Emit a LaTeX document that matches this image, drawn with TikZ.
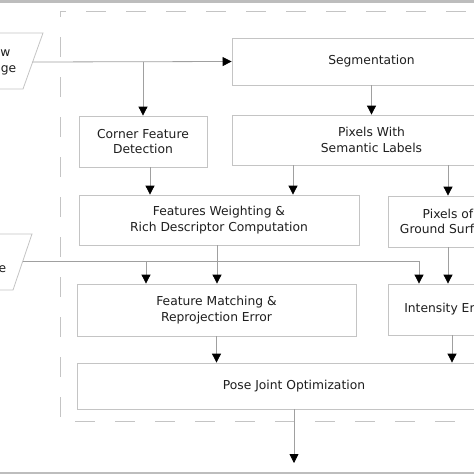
\documentclass[tikz,border=0pt]{standalone}
\usepackage{fontspec}
\setmainfont{DejaVu Sans}
\usetikzlibrary{arrows.meta}
\definecolor{boxgray}{HTML}{C4C4C4}
\definecolor{linegray}{HTML}{A0A0A0}
\definecolor{bandgray}{HTML}{BDBDBD}
\definecolor{txt}{HTML}{1E1E1E}
\tikzset{
  box/.style={draw=boxgray, line width=0.8pt, inner sep=0pt, align=center, text=txt,
    font=\fontsize{12.3}{15.5}\selectfont},
  conn/.style={draw=linegray, line width=0.8pt},
  arr/.style={conn, -{Triangle[width=9pt,length=9pt,fill=black,color=black]}},
  frame/.style={draw=boxgray, line width=0.8pt, dash pattern=on 20pt off 20pt},
  lbl/.style={inner sep=0pt, align=center, text=txt, font=\fontsize{12.3}{15.5}\selectfont}
}
\begin{document}
\begin{tikzpicture}[x=1pt,y=-1pt]
\useasboundingbox (0,0) rectangle (474,474);
\clip (0,0) rectangle (474,474);
\fill[white] (0,0) rectangle (474,474);
% bands
\fill[bandgray] (0,0) rectangle (474,2.5);
\fill[bandgray] (0,471.5) rectangle (474,474);
% dashed frame
\draw[frame, dash phase=14pt] (60,11) -- (530,11);
\draw[frame, dash phase=14pt] (60,11) -- (60,421);
\draw[frame, dash phase=25pt] (60,421) -- (530,421);
% input parallelograms
\draw[boxgray, line width=0.8pt] (43,33) -- (23,89) -- (-49,89) -- (-29,33) -- cycle;
\node[lbl] (img1) at (-3,61.5) {New\\Image};
\coordinate (img1r) at (32.6,62);
\draw[boxgray, line width=0.8pt] (32,234) -- (13,290) -- (-60,290) -- (-41,234) -- cycle;
\node[lbl] (img2) at (-13,269) {Image};
\coordinate (img2r) at (22.6,261);
% boxes
\node[box, minimum width=279pt, minimum height=47pt] (seg) at (371.5,61.5) {Segmentation};
\node[box, minimum width=279pt, minimum height=50pt] (pix) at (371.5,140) {Pixels With\\Semantic Labels};
\node[box, minimum width=128pt, minimum height=51pt] (corner) at (143,141.5) {Corner Feature\\Detection};
\node[box, minimum width=280pt, minimum height=50pt] (feat) at (219,220) {Features Weighting \&\\Rich Descriptor Computation};
\node[box, minimum width=120pt, minimum height=51pt] (ground) at (448,221.5) {Pixels of\\Ground Surface};
\node[box, minimum width=279pt, minimum height=52pt] (match) at (216.5,310) {Feature Matching \&\\Reprojection Error};
\node[box, minimum width=120pt, minimum height=51pt] (inten) at (448,309.5) {Intensity Error};
\node[box, minimum width=434pt, minimum height=46pt] (pose) at (294,386) {Pose Joint Optimization};
\coordinate (out) at (294,463);
% connectors
\draw[arr] (img1r) -- (seg.west);
\draw[arr] (corner.north |- seg.west) -- (corner.north);
\draw[arr] (seg.south) -- (pix.north);
\draw[arr] ([xshift=7pt]corner.south) -- ([xshift=7pt]corner.south |- feat.north);
\draw[arr] ([xshift=-78.5pt]pix.south) -- ([xshift=-78.5pt]pix.south |- feat.north);
\draw[arr] (ground.north |- pix.south) -- (ground.north);
\draw[arr] ([xshift=-2pt]feat.south) -- ([xshift=-2pt]feat.south |- match.north);
\draw[arr] (img2r) -| ([xshift=-29pt]inten.north);
\draw[arr] ([xshift=-70.5pt]match.north |- img2r) -- ([xshift=-70.5pt]match.north);
\draw[arr] (ground.south) -- (inten.north);
\draw[arr] (match.south) -- (match.south |- pose.north);
\draw[arr] ([xshift=4pt]inten.south) -- ([xshift=4pt]inten.south |- pose.north);
\draw[arr] (pose.south) -- (out);
\end{tikzpicture}
\end{document}
